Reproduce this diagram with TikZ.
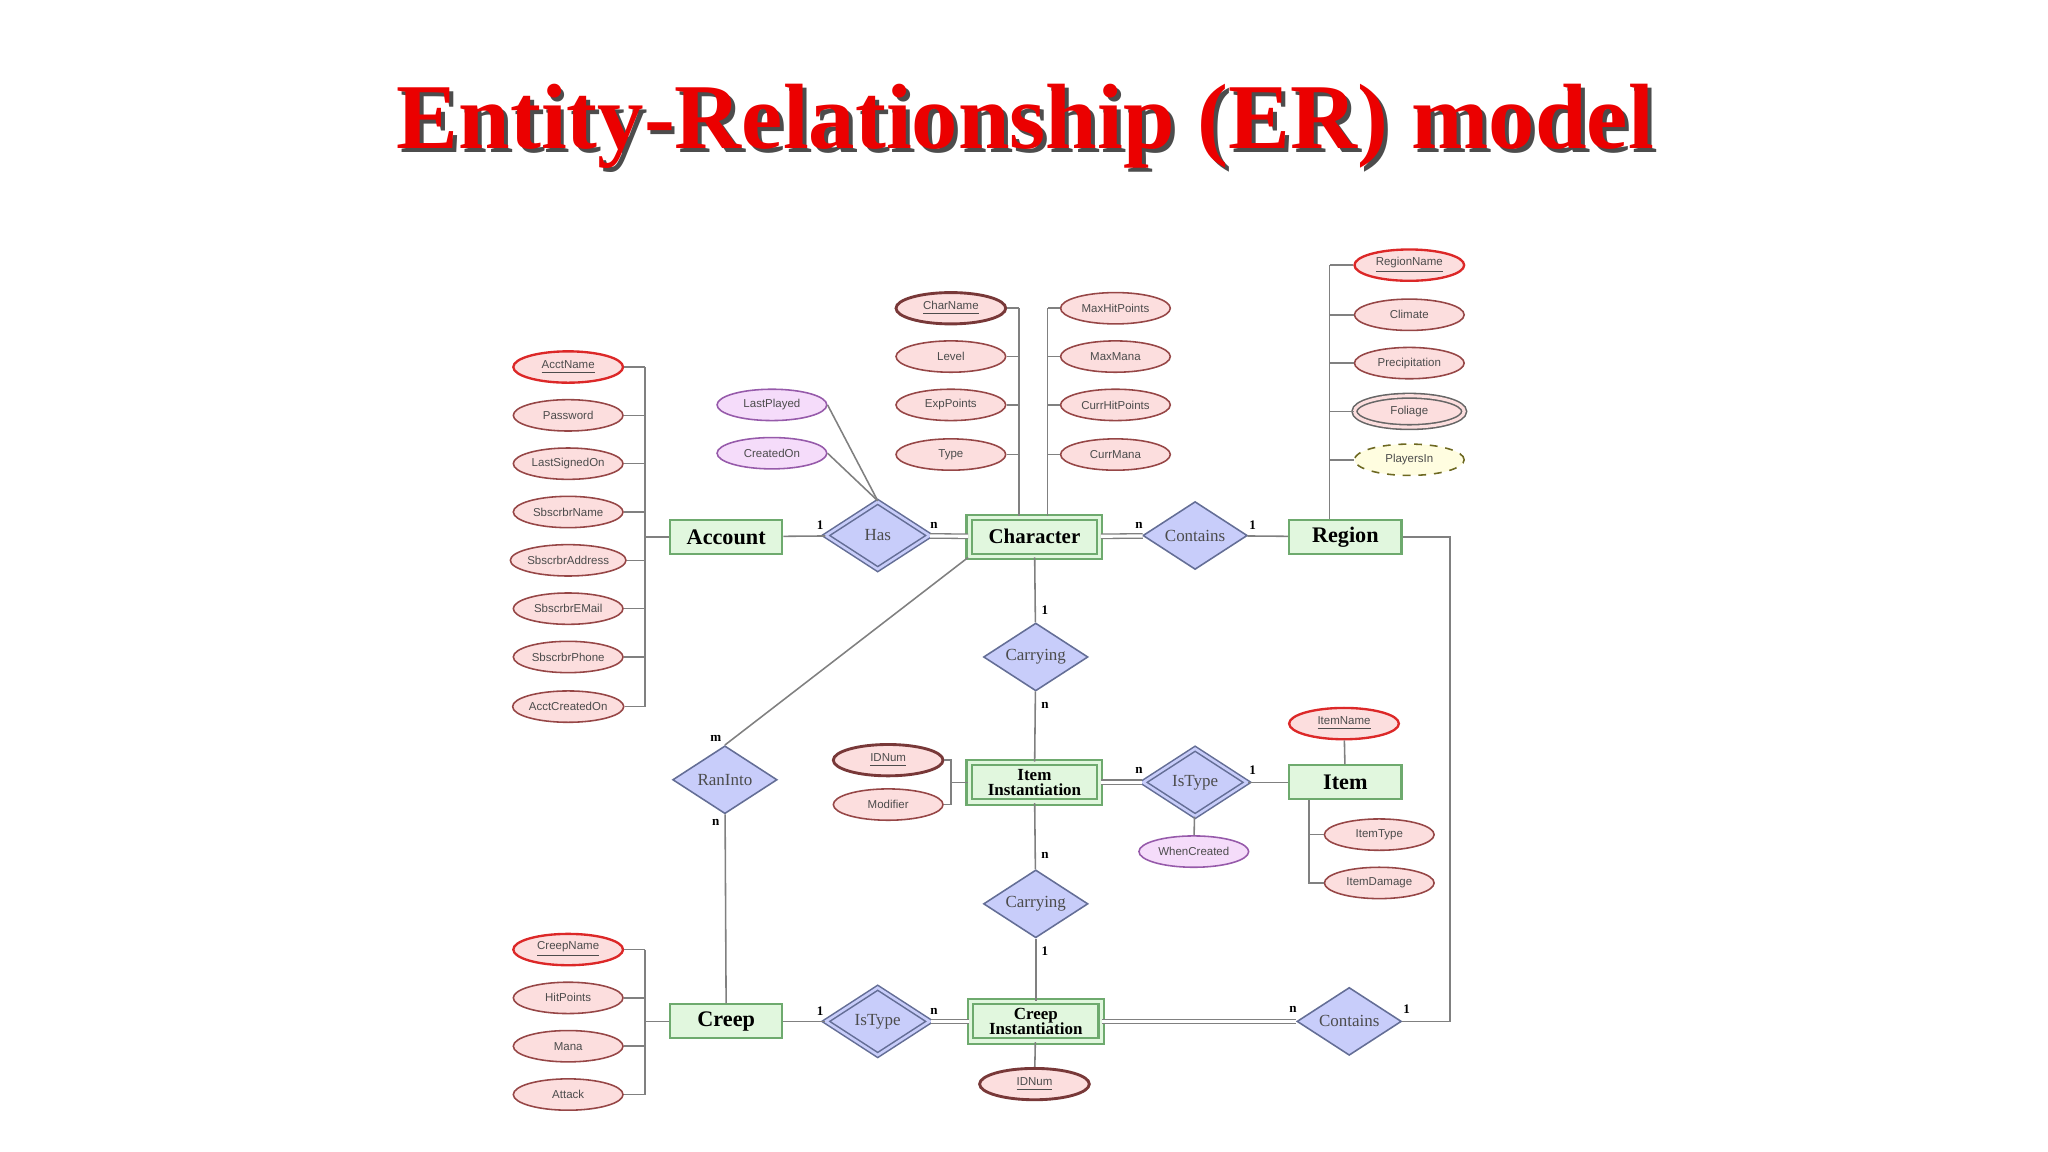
\documentclass[tikz,border=0pt]{standalone}
\usepackage{fontspec}
\setmainfont{Liberation Serif}
\setsansfont{Liberation Sans}
\usetikzlibrary{shapes.geometric,shapes.misc}
\definecolor{entf}{RGB}{225,247,222}
\definecolor{entd}{RGB}{110,170,110}
\definecolor{attf}{RGB}{252,222,222}
\definecolor{attd}{RGB}{150,70,70}
\definecolor{keyd}{RGB}{220,40,40}
\definecolor{viof}{RGB}{245,220,250}
\definecolor{viod}{RGB}{150,90,170}
\definecolor{relf}{RGB}{200,205,250}
\definecolor{reld}{RGB}{100,110,150}
\definecolor{titlered}{RGB}{235,0,0}
\tikzset{
 x=0.5pt,y=-0.5pt,
 ent/.style={draw=entd,fill=entf,line width=0.8pt,minimum width=43pt,minimum height=13pt,font=\bfseries\fontsize{8.5}{9}\selectfont,inner sep=1pt,align=center},
 went/.style={ent,double=entf,double distance=1.2pt,minimum width=50pt,minimum height=15pt,font=\bfseries\fontsize{6.5}{6}\selectfont},
 att/.style={ellipse,draw=attd,fill=attf,line width=0.6pt,minimum width=42pt,minimum height=12pt,inner sep=0pt,font=\sffamily\fontsize{4.4}{5}\selectfont,text=black!70},
 katt/.style={att,draw=keyd,line width=0.9pt},
 vatt/.style={att,draw=viod,fill=viof},
 rel/.style={diamond,draw=reld,fill=relf,line width=0.6pt,aspect=1.55,minimum width=40pt,minimum height=26pt,inner sep=0pt,font=\fontsize{6.5}{7}\selectfont,text=black!70},
 wrel/.style={rel,double=relf,double distance=1pt},
 ln/.style={draw=black!50,line width=0.6pt},
 dl/.style={draw=black!50,double=white,double distance=1.2pt,line width=0.5pt},
 card/.style={font=\fontsize{5}{5}\selectfont\bfseries,inner sep=0pt},
}
\begin{document}
\begin{tikzpicture}
\useasboundingbox (0,0) rectangle (1568,882);
% title
\node[font=\bfseries\fontsize{35.5}{38}\selectfont,text=black!70] at (788,100) {Entity-Relationship (ER) model};
\node[font=\bfseries\fontsize{35.5}{38}\selectfont,text=titlered] (title) at (785,97) {Entity-Relationship (ER) model};
% entities
\node[ent] (acc) at (556,411) {Account};
\node[went] (chr) at (792,411) {\fontsize{8}{8}\selectfont Character};
\node[ent] (reg) at (1030,411) {Region};
\node[went] (ii) at (792,599) {Item\\Instantiation};
\node[ent] (item) at (1030,599) {Item};
\node[ent] (creep) at (556,782) {Creep};
\node[went] (ci) at (793,782) {Creep\\Instantiation};
% relations
\node[wrel] (has) at (672,410) {Has};
\node[rel] (cont) at (915,410) {Contains};
\node[rel] (carry) at (793,503) {Carrying};
\node[rel] (ran) at (555,597) {RanInto};
\node[wrel] (ist) at (915,599) {IsType};
\node[rel] (carry2) at (793,692) {Carrying};
\node[wrel] (ist2) at (672,782) {IsType};
\node[rel] (cont2) at (1033,782) {Contains};
% account attrs
\node[katt] (a1) at (435,281) {\underline{AcctName}};
\node[att] (a2) at (435,318) {Password};
\node[att] (a3) at (435,355) {LastSignedOn};
\node[att] (a4) at (435,392) {SbscrbrName};
\node[att] (a5) at (435,429) {SbscrbrAddress};
\node[att] (a6) at (435,466) {SbscrbrEMail};
\node[att] (a7) at (435,503) {SbscrbrPhone};
\node[att] (a8) at (435,541) {AcctCreatedOn};
\coordinate (ab1) at (494,281); \coordinate (ab2) at (494,541);
\draw[ln] (ab1) -- (ab2);
\foreach \i in {1,...,8} {\draw[ln] (a\i.east) -- (a\i.east -| ab1);}
\draw[ln] (acc.west -| ab1) -- (acc.west);
% has attrs
\node[vatt] (lp) at (591,310) {LastPlayed};
\node[vatt] (co) at (591,347) {CreatedOn};
\draw[ln] (lp.east) -- (has.north); \draw[ln] (co.east) -- (has.north);
% character attrs
\node[katt,draw=attd!80!black,line width=1.1pt] (c1) at (728,236) {\underline{CharName}};
\node[att] (c2) at (728,273) {Level};
\node[att] (c3) at (728,310) {ExpPoints};
\node[att] (c4) at (728,348) {Type};
\node[att] (d1) at (854,236) {MaxHitPoints};
\node[att] (d2) at (854,273) {MaxMana};
\node[att] (d3) at (854,310) {CurrHitPoints};
\node[att] (d4) at (854,348) {CurrMana};
\coordinate (cb) at (780,236); \coordinate (db) at (802,236);
\draw[ln] (cb) -- (cb |- chr.north); \draw[ln] (db) -- (db |- chr.north);
\foreach \i in {1,...,4} {\draw[ln] (c\i.east) -- (c\i.east -| cb); \draw[ln] (d\i.west) -- (d\i.west -| db);}
% region attrs
\node[katt] (r1) at (1079,203) {\underline{RegionName}};
\node[att] (r2) at (1079,241) {Climate};
\node[att] (r3) at (1079,278) {Precipitation};
\node[att,double=attf,double distance=1.2pt,draw=black!60] (r4) at (1079,315) {Foliage};
\node[att,dashed,draw=olive!70!black,fill=yellow!12] (r5) at (1079,352) {PlayersIn};
\coordinate (rb) at (1018,203);
\draw[ln] (rb) -- (rb |- reg.north);
\foreach \i in {1,...,5} {\draw[ln] (r\i.west) -- (r\i.west -| rb);}
% item attrs
\node[katt] (i1) at (1029,554) {\underline{ItemName}};
\draw[ln] (i1) -- (item);
\node[att] (i2) at (1056,639) {ItemType};
\node[att] (i3) at (1056,676) {ItemDamage};
\coordinate (ib) at (1002,676);
\draw[ln] (ib |- item.south) -- (ib) -- (i3.west); \draw[ln] (i2.west) -- (i2.west -| ib);
% item inst attrs
\node[katt,draw=attd!80!black,line width=1.1pt] (n1) at (680,582) {\underline{IDNum}};
\node[att] (n2) at (680,616) {Modifier};
\coordinate (nb) at (728,582);
\draw[ln] (n1.east) -- (nb) -- (nb |- n2.east) -- (n2.east); \draw[ln] (nb |- ii.west) -- (ii.west);
\node[vatt] (wc) at (914,652) {WhenCreated};
\draw[ln] (ist) -- (wc);
% creep attrs
\node[katt] (e1) at (435,727) {\underline{CreepName}};
\node[att] (e2) at (435,764) {HitPoints};
\node[att] (e3) at (435,801) {Mana};
\node[att] (e4) at (435,838) {Attack};
\coordinate (eb) at (494,727);
\draw[ln] (eb) -- (eb |- e4.east);
\foreach \i in {1,...,4} {\draw[ln] (e\i.east) -- (e\i.east -| eb);}
\draw[ln] (creep.west -| eb) -- (creep.west);
\node[katt,draw=attd!80!black,line width=1.1pt] (n3) at (792,830) {\underline{IDNum}};
\draw[ln] (ci) -- (n3);
% relationships
\draw[ln] (acc) -- (has);
\draw[dl] (has) -- (chr);
\draw[dl] (chr) -- (cont);
\draw[ln] (cont) -- (reg);
\draw[ln] (chr) -- (carry); \draw[ln] (carry) -- (ii);
\draw[dl] (ii) -- (ist); \draw[ln] (ist) -- (item);
\draw[ln] (ii) -- (carry2); \draw[ln] (carry2) -- (ci);
\draw[ln] (chr.south west) -- (ran.north); \draw[ln] (ran) -- (creep);
\draw[ln] (creep) -- (ist2); \draw[dl] (ist2) -- (ci);
\draw[dl] (ci) -- (cont2);
\coordinate (rr) at (1110,411);
\draw[ln] (reg.east) -- (rr) -- (rr |- cont2.east) -- (cont2.east);
% cardinalities
\node[card] at (628,402) {1}; \node[card] at (715,402) {n};
\node[card] at (872,402) {n}; \node[card] at (959,402) {1};
\node[card] at (800,467) {1}; \node[card] at (800,540) {n};
\node[card] at (872,590) {n}; \node[card] at (959,590) {1};
\node[card] at (800,655) {n}; \node[card] at (800,728) {1};
\node[card] at (548,565) {m}; \node[card] at (548,630) {n};
\node[card] at (628,774) {1}; \node[card] at (715,774) {n};
\node[card] at (990,773) {n}; \node[card] at (1077,773) {1};
\end{tikzpicture}
\end{document}
